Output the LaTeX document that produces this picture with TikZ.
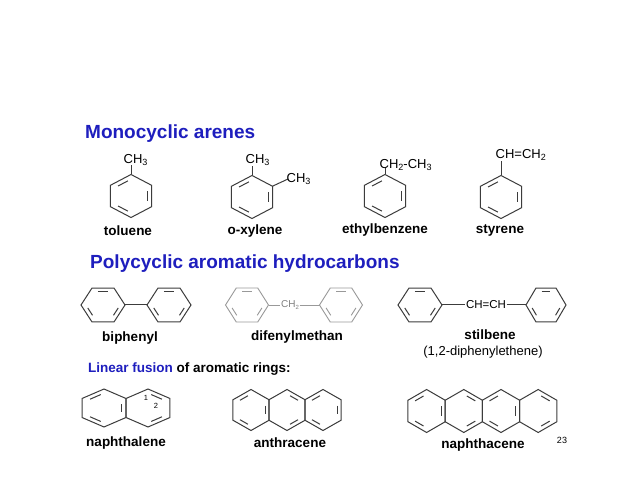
\documentclass[tikz,border=0pt]{standalone}
\usepackage{fontspec}
\setmainfont{Liberation Sans}
\usetikzlibrary{calc}
\definecolor{tblue}{RGB}{30,30,190}
\definecolor{bondc}{RGB}{60,60,60}
\tikzset{bond/.style={draw=bondc,line width=1pt},
  lbl/.style={font=\bfseries\fontsize{13.5}{15}\selectfont,inner sep=0},
  ttl/.style={font=\bfseries\fontsize{19}{21}\selectfont,text=tblue,anchor=west,inner sep=0},
  grp/.style={font=\fontsize{13}{14}\selectfont,inner sep=0.5pt}}
\newcommand\sub[1]{\raisebox{-0.25ex}{\fontsize{9}{10}\selectfont #1}}
% ring: cx cy rx ry startangle doubles
\newcommand\ring[6]{%
  \draw[bond] ({#1+#3*cos(#5)},{#2+#4*sin(#5)})
    \foreach \k in {1,...,5}{ -- ({#1+#3*cos(#5+60*\k)},{#2+#4*sin(#5+60*\k)})} -- cycle;
  \foreach \k in {#6}{%
    \draw[bond,shorten <=3.5pt,shorten >=3.5pt]
      ({#1+0.78*#3*cos(#5+60*\k)},{#2+0.78*#4*sin(#5+60*\k)}) --
      ({#1+0.78*#3*cos(#5+60*\k+60)},{#2+0.78*#4*sin(#5+60*\k+60)});}}
\begin{document}
\begin{tikzpicture}[x=1pt,y=-1pt]
\useasboundingbox[fill=white] (0,0) rectangle (638,478);
\node[ttl] (t1) at (85,134) {Monocyclic arenes};
\node[ttl] (t2) at (90,264) {Polycyclic aromatic hydrocarbons};
\node[anchor=west,inner sep=0,font=\bfseries\fontsize{13.5}{15}\selectfont] (t3) at (88,369) {\textcolor{tblue}{Linear fusion} of aromatic rings:};
% toluene
\ring{131}{196}{23.7}{21.5}{-90}{1,3,5}
\draw[bond] (131,174.5) -- (131,165);
\node[grp,anchor=west] (c1) at (123,160) {CH\sub{3}};
\node[lbl] (l1) at (128,231) {toluene};
% o-xylene
\ring{252}{197}{23.7}{21.5}{-90}{1,3,5}
\draw[bond] (252,175.5) -- (252,166);
\node[grp,anchor=west] (c2) at (245,160) {CH\sub{3}};
\draw[bond] (272.5,186.2) -- (288,179);
\node[grp,anchor=west] (c3) at (286,179) {CH\sub{3}};
\node[lbl] (l2) at (255,231) {o-xylene};
% ethylbenzene
\ring{385}{196}{23.7}{21.5}{-90}{1,3,5}
\draw[bond] (385,174.5) -- (385,168);
\node[grp,anchor=west] (c4) at (379,165) {CH\sub{2}-CH\sub{3}};
\node[lbl] (l3) at (385,230) {ethylbenzene};
% styrene
\ring{501}{197}{23.7}{21.5}{-90}{1,3,5}
\draw[bond] (501,175.5) -- (501,161);
\node[grp,anchor=west] (c5) at (495,155) {CH=CH\sub{2}};
\node[lbl] (l4) at (500,231) {styrene};
% biphenyl
\ring{103}{305}{22}{19.6}{0}{0,2,4}
\ring{169}{305}{22}{19.6}{0}{0,2,4}
\draw[bond] (125,305) -- (147,305);
\node[lbl] (l5) at (130,338) {biphenyl};
% difenylmethan
\begin{scope}
\tikzset{bond/.style={draw=gray!80,line width=0.9pt}}
\ring{247}{305}{21.5}{19.6}{0}{0,2,4}
\ring{341}{305}{21.5}{19.6}{0}{0,2,4}
\node[grp,text=gray,font=\fontsize{10}{11}\selectfont] (c6) at (290,305) {CH\raisebox{-0.25ex}{\fontsize{6}{7}\selectfont 2}};
\draw[bond] (268.5,305) -- (c6.west);
\draw[bond] (c6.east) -- (319.5,305);
\end{scope}
\node[lbl] (l6) at (297,337) {difenylmethan};
% stilbene
\ring{420}{305}{22}{19.6}{0}{0,2,4}
\ring{546}{305}{20}{19.6}{0}{0,2,4}
\node[grp,font=\fontsize{11.5}{12}\selectfont] (c7) at (486,305) {CH=CH};
\draw[bond] (442,305) -- (c7.west);
\draw[bond] (c7.east) -- (526,305);
\node[lbl] (l7) at (490,335) {stilbene};
\node[inner sep=0,font=\fontsize{13}{15}\selectfont] (l8) at (483,352) {(1,2-diphenylethene)};
% naphthalene
\ring{104}{408}{25.4}{19}{-90}{1,3,5}
\ring{148}{408}{25.4}{19}{-90}{0,2}
\node[inner sep=0,font=\fontsize{7.5}{8}\selectfont] (n1) at (146,398) {1};
\node[inner sep=0,font=\fontsize{7.5}{8}\selectfont] (n2) at (156,406) {2};
\node[lbl] (l9) at (126,443) {naphthalene};
% anthracene
\ring{251}{410}{20.8}{20.5}{-90}{1,3,5}
\ring{287}{410}{20.8}{20.5}{-90}{0,2}
\ring{323}{410}{20.8}{20.5}{-90}{1,3,5}
\node[lbl] (l10) at (290,443) {anthracene};
% naphthacene
\ring{426.6}{411}{21.5}{21.5}{-90}{1,3,5}
\ring{463.8}{411}{21.5}{21.5}{-90}{0,2}
\ring{501}{411}{21.5}{21.5}{-90}{1,3,5}
\ring{538.2}{411}{21.5}{21.5}{-90}{0,2}
\node[lbl] (l11) at (483,445) {naphthacene};
\node[inner sep=0,font=\fontsize{9}{10}\selectfont] (pg) at (562,440) {23};
\end{tikzpicture}
\end{document}
